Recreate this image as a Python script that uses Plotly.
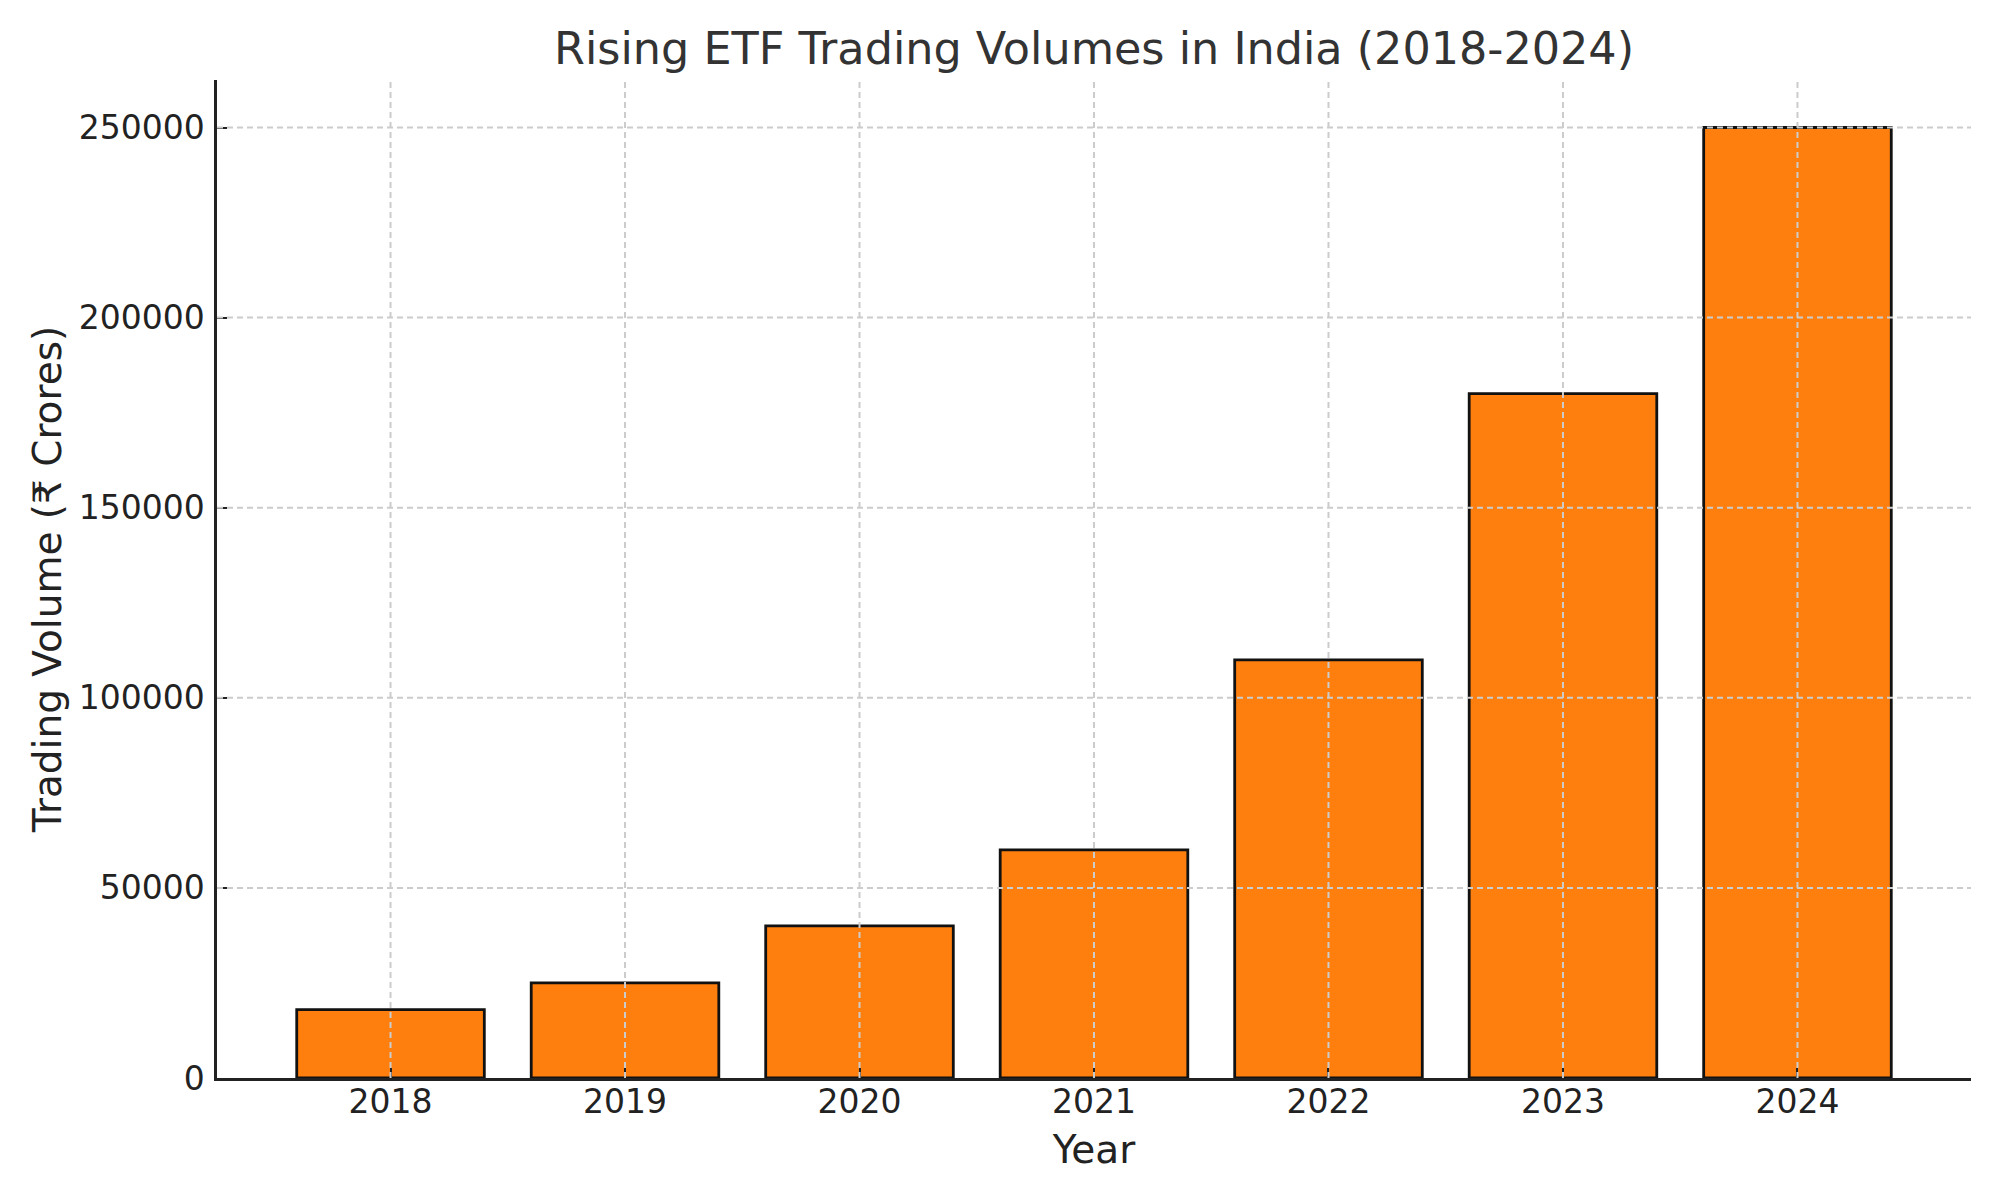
import plotly.graph_objects as go

years = ["2018", "2019", "2020", "2021", "2022", "2023", "2024"]
volumes = [18000, 25000, 40000, 60000, 110000, 180000, 250000]
ytick_vals = [0, 50000, 100000, 150000, 200000, 250000]

font_family = "DejaVu Sans"
grid_color = "#cccccc"
axis_color = "#222222"

# the page body has an 8px margin, so the figure is 16px smaller than the window
W, H = 1984, 1184

fig = go.Figure()
fig.add_trace(go.Bar(x=years, y=volumes, width=0.8,
                     marker=dict(color="#ff7f0e", line=dict(color="#111111", width=2.8))))

# matplotlib draws its grid over the bars, so do the grid with shapes on top
grid = []
for v in ytick_vals[1:]:
    grid.append(dict(type="line", xref="paper", x0=0, x1=1, yref="y", y0=v, y1=v, layer="above",
                     line=dict(color=grid_color, width=2, dash="6px,4px")))
for i, yr in enumerate(years):
    grid.append(dict(type="line", xref="x", x0=i, x1=i, yref="paper", y0=0, y1=1, layer="above",
                     line=dict(color=grid_color, width=2, dash="6px,4px")))

fig.update_layout(
    width=W, height=H,
    margin=dict(l=209, r=21, t=72, b=114),
    paper_bgcolor="white", plot_bgcolor="white",
    font=dict(family=font_family, color=axis_color, size=33),
    showlegend=False,
    shapes=grid,
    title=dict(text="Rising ETF Trading Volumes in India (2018-2024)", x=1086 / W, xanchor="center",
               y=1 - 40 / H, yanchor="middle", yref="container",
               font=dict(size=44.5, color="#333333")),
    bargap=0.2,
)
fig.update_xaxes(type="category", range=[-0.74, 6.74], showgrid=False,
                 showline=True, linecolor=axis_color, linewidth=2.5, layer="above traces",
                 ticks="inside", ticklen=10, tickwidth=2, tickcolor=axis_color,
                 ticklabelstandoff=-7,
                 title=dict(text="Year", font=dict(size=39), standoff=16))
fig.update_yaxes(range=[0, 262500], showgrid=False, zeroline=False,
                 showline=True, linecolor=axis_color, linewidth=2.5, layer="above traces",
                 tickvals=ytick_vals, tickformat="d",
                 ticks="inside", ticklen=10, tickwidth=2, tickcolor=axis_color,
                 ticklabelstandoff=3,
                 title=dict(text="Trading Volume (₹ Crores)", font=dict(size=39), standoff=6))

fig.write_html("out.html")
